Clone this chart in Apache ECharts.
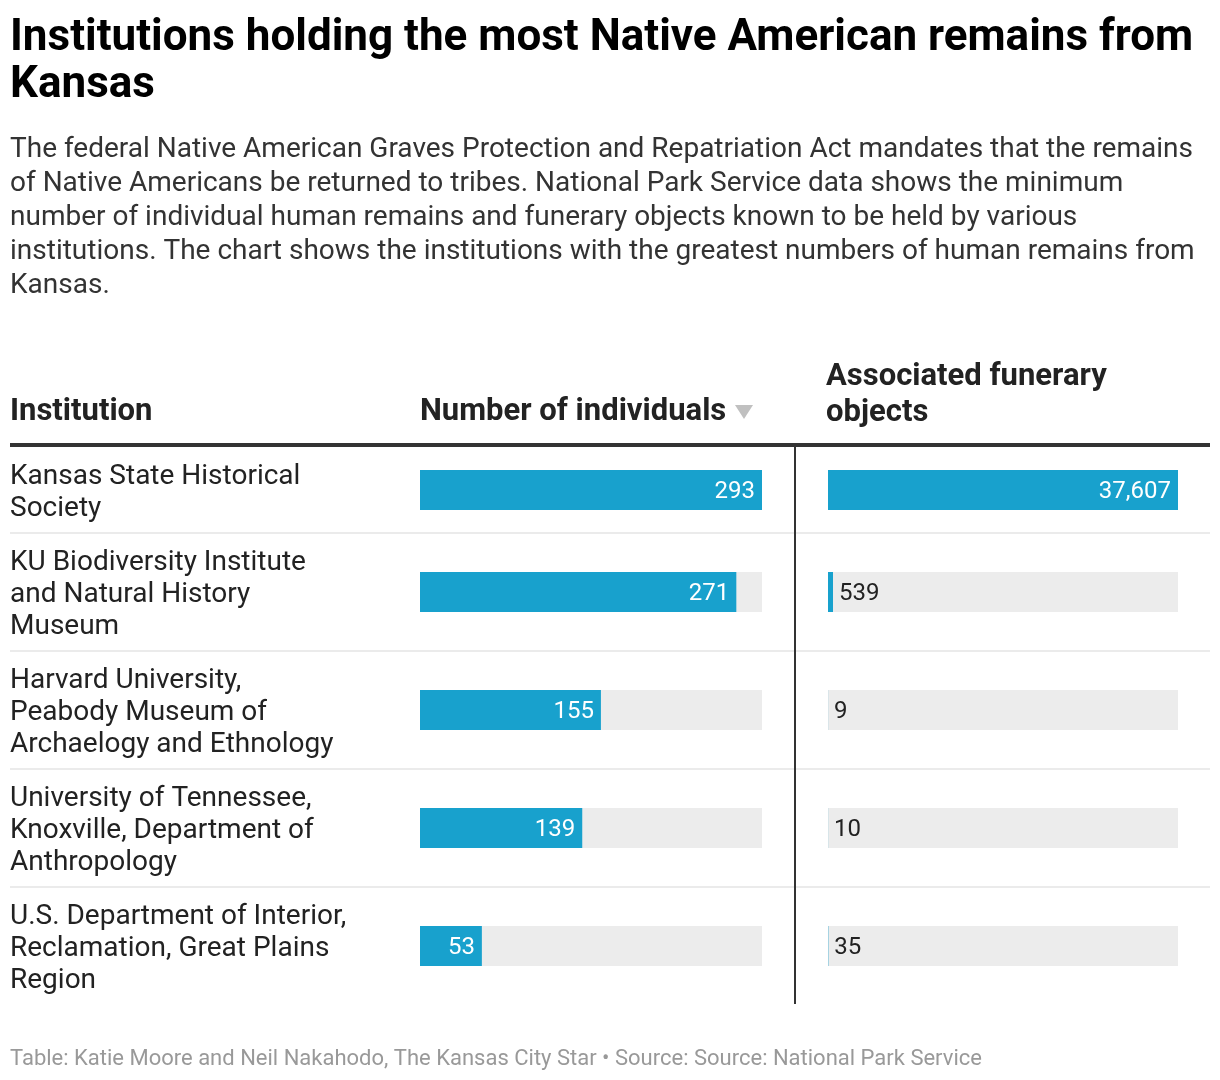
<!DOCTYPE html>
<html>
<head>
<meta charset="utf-8">
<script src="https://cdn.jsdelivr.net/npm/echarts@6/dist/echarts.min.js"></script>
<style>
html,body{margin:0;padding:0;background:#fff;}
#chart{width:1220px;height:1080px;}
</style>
</head>
<body>
<div id="chart"></div>
<script>
// ---- data ----
const institutions = [
  "Kansas State Historical\nSociety",
  "KU Biodiversity Institute\nand Natural History\nMuseum",
  "Harvard University,\nPeabody Museum of\nArchaelogy and Ethnology",
  "University of Tennessee,\nKnoxville, Department of\nAnthropology",
  "U.S. Department of Interior,\nReclamation, Great Plains\nRegion"
];
const individuals = [293, 271, 155, 139, 53];
const funeraryObjects = [37607, 539, 9, 10, 35];
const columnHeaders = ["Institution", "Number of individuals", "Associated funerary\nobjects"];
const titleText = "Institutions holding the most Native American remains from\nKansas";
const subtitleText = "The federal Native American Graves Protection and Repatriation Act mandates that the remains\nof Native Americans be returned to tribes. National Park Service data shows the minimum\nnumber of individual human remains and funerary objects known to be held by various\ninstitutions. The chart shows the institutions with the greatest numbers of human remains from\nKansas.";
const footerText = "Table: Katie Moore and Neil Nakahodo, The Kansas City Star \u2022 Source: Source: National Park Service";

// ---- layout ----
const FONT = "Roboto, 'Noto Sans', sans-serif";
const BLUE = "#18a1cd";
const rowCenters = [490, 592, 710, 828, 946];
const barH = 40;
const leftX = 420, leftW = 342;
const rightX = 828, rightW = 350;
const maxInd = Math.max(...individuals);
const maxFun = Math.max(...funeraryObjects);
const fmt = v => Number(v).toLocaleString('en-US');

const grid = [], xAxis = [], yAxis = [], series = [];
rowCenters.forEach((c, i) => {
  // left column
  grid.push({left: leftX, width: leftW, top: c - barH / 2, height: barH, containLabel: false});
  xAxis.push({type: 'value', gridIndex: grid.length - 1, min: 0, max: maxInd, show: false});
  yAxis.push({
    type: 'category', gridIndex: grid.length - 1, data: [institutions[i]],
    axisLine: {show: false}, axisTick: {show: false}, splitLine: {show: false},
    axisLabel: {
      show: true, align: 'left', margin: leftX - 10,
      formatter: v => '{s| }\n' + v.split('\n').map(l => '{n|' + l + '}').join('\n'),
      rich: {
        s: {fontSize: 1, lineHeight: 6, height: 6},
        n: {fontSize: 28, lineHeight: 32, color: '#222', fontFamily: FONT}
      }
    }
  });
  series.push({
    type: 'bar', xAxisIndex: grid.length - 1, yAxisIndex: grid.length - 1,
    data: [individuals[i]], barWidth: barH, color: BLUE,
    showBackground: true, backgroundStyle: {color: '#ececec'},
    label: {show: true, position: 'insideRight', distance: 7, offset: [0, 2], color: '#fff', fontSize: 24, fontFamily: FONT, formatter: p => fmt(p.value)}
  });
  // right column
  grid.push({left: rightX, width: rightW, top: c - barH / 2, height: barH, containLabel: false});
  xAxis.push({type: 'value', gridIndex: grid.length - 1, min: 0, max: maxFun, show: false});
  yAxis.push({type: 'category', gridIndex: grid.length - 1, data: [institutions[i]], show: false});
  const big = funeraryObjects[i] / maxFun > 0.2;
  series.push({
    type: 'bar', xAxisIndex: grid.length - 1, yAxisIndex: grid.length - 1,
    data: [funeraryObjects[i]], barWidth: barH, color: BLUE,
    showBackground: true, backgroundStyle: {color: '#ececec'},
    label: big
      ? {show: true, position: 'insideRight', distance: 7, offset: [0, 2], color: '#fff', fontSize: 24, fontFamily: FONT, formatter: p => fmt(p.value)}
      : {show: true, position: 'right', distance: 6, offset: [0, 2], color: '#222', fontSize: 24, fontFamily: FONT, formatter: p => fmt(p.value)}
  });
});

const graphic = [
  {type: 'text', left: 10, top: 15, style: {text: titleText, font: "bold 44px " + FONT, fill: '#000', lineHeight: 47}},
  {type: 'text', left: 10, top: 133, style: {text: subtitleText, font: "28px " + FONT, fill: '#333', lineHeight: 34}},
  {type: 'text', left: 10, top: 397, style: {text: columnHeaders[0], font: "bold 31px " + FONT, fill: '#222'}},
  {type: 'text', left: 420, top: 397, style: {text: columnHeaders[1], font: "bold 31px " + FONT, fill: '#222'}},
  {type: 'polygon', shape: {points: [[735, 405], [753, 405], [744, 419]]}, style: {fill: '#c0c0c0'}},
  {type: 'text', left: 826, top: 359, style: {text: columnHeaders[2], font: "bold 31px " + FONT, fill: '#222', lineHeight: 36}},
  {type: 'line', shape: {x1: 10, y1: 445, x2: 1210, y2: 445}, style: {stroke: '#333', lineWidth: 4}},
  {type: 'line', shape: {x1: 795, y1: 447, x2: 795, y2: 1004}, style: {stroke: '#333', lineWidth: 2}, z: 10},
  {type: 'line', shape: {x1: 10, y1: 533, x2: 1210, y2: 533}, style: {stroke: '#ebebeb', lineWidth: 2}},
  {type: 'line', shape: {x1: 10, y1: 651, x2: 1210, y2: 651}, style: {stroke: '#ebebeb', lineWidth: 2}},
  {type: 'line', shape: {x1: 10, y1: 769, x2: 1210, y2: 769}, style: {stroke: '#ebebeb', lineWidth: 2}},
  {type: 'line', shape: {x1: 10, y1: 887, x2: 1210, y2: 887}, style: {stroke: '#ebebeb', lineWidth: 2}},
  {type: 'text', left: 10, top: 1048, style: {text: footerText, font: "22px " + FONT, fill: '#999'}}
];

const chart = echarts.init(document.getElementById('chart'), null, {renderer: 'canvas'});
chart.setOption({
  animation: false,
  backgroundColor: '#fff',
  grid, xAxis, yAxis, series, graphic
});
</script>
</body>
</html>
